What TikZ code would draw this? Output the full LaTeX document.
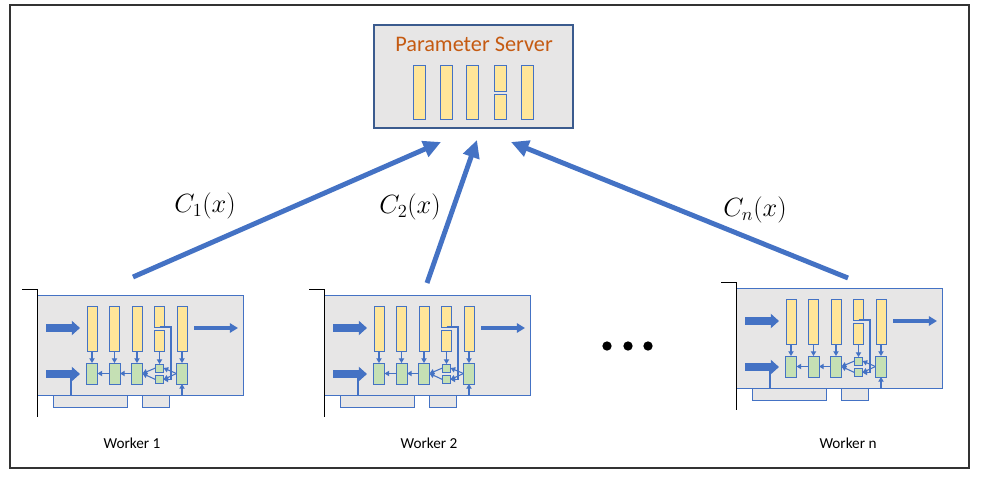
\RequirePackage{fix-cm}
\documentclass[tikz,border=0pt]{standalone}
\usepackage{fontspec}
\newfontfamily\calibri{Carlito}
\usetikzlibrary{arrows.meta}
\definecolor{cardgray}{HTML}{E7E6E6}
\definecolor{linkblue}{HTML}{4472C4}
\definecolor{serverblue}{HTML}{3B5B8E}
\definecolor{barfill}{HTML}{FFE699}
\definecolor{cellfill}{HTML}{C5E0B4}
\definecolor{titleorange}{HTML}{C55A11}
\begin{document}
\begin{tikzpicture}[
		x=0.03cm, y=-0.03cm,
		every node/.style={inner sep=0pt, outer sep=0pt},
		box/.style={draw=linkblue, line width=0.6pt, fill=cardgray},
		bar/.style={draw=linkblue, line width=0.6pt, fill=barfill, minimum width=0.3cm, minimum height=1.35cm},
		halfbar/.style={bar, minimum height=0.63cm},
		cell/.style={draw=linkblue, line width=0.6pt, fill=cellfill, minimum width=0.33cm, minimum height=0.63cm},
		tinycell/.style={cell, minimum width=0.24cm, minimum height=0.24cm},
		wire/.style={linkblue, line width=0.9pt, -{Triangle[length=4pt, width=4.5pt]}},
		inarrow/.style={linkblue, line width=6.5pt, -{Triangle[length=7pt, width=12pt]}},
		outarrow/.style={linkblue, line width=3.4pt, -{Triangle[length=7pt, width=8pt]}},
		upload/.style={linkblue, line width=4.2pt, -{Triangle[length=15pt, width=14pt]}},
		clabel/.style={font=\fontsize{22.5}{26}\selectfont},
		wlabel/.style={font=\calibri\fontsize{13}{15}\selectfont}
	]
	\useasboundingbox (0,0) rectangle (982,481);
	\draw[black!80, line width=1.2pt] (10,5) rectangle (969,468);

	% parameter server
	\node[box, draw=serverblue, line width=1pt, minimum width=5.97cm, minimum height=3.09cm] (ps) at (473.5,76.5) {};
	\node[font=\calibri\fontsize{19}{22}\selectfont, text=titleorange] (ps-title) at (474,44) {Parameter Server};
	\foreach \i/\x in {1/419,2/446,3/472.5,5/527.5}
		\node[bar, minimum width=0.36cm, minimum height=1.62cm] (ps-b\i) at (\x,92) {};
	\node[bar, minimum width=0.36cm, minimum height=0.78cm] (ps-b4a) at (500,78) {};
	\node[bar, minimum width=0.36cm, minimum height=0.75cm] (ps-b4b) at (500,106.5) {};

	% workers
	\foreach \w/\cx/\cy/\lx/\ux/\uy in {1/37/295/132/96/-18, 2/324/295/429/103/-12, n/736/288/848/112/-10} {
		\begin{scope}[shift={(\cx,\cy)}]
			\node[box, minimum width=2.22cm, minimum height=0.36cm] (w\w-tab1) at (53,106) {};
			\node[box, minimum width=0.81cm, minimum height=0.36cm] (w\w-tab2) at (118.5,106) {};
			\node[box, minimum width=6.18cm, minimum height=3cm] (w\w-card) at (103,50) {};
			\draw[black, line width=0.8pt] (-15,-6) -- (0,-6) -- (0,122);
			\coordinate (w\w-up) at (\ux,\uy);

			\foreach \i/\x in {1/55,2/77.5,3/100,5/145} {
				\node[bar] (w\w-b\i) at (\x,33.5) {};
				\node[cell] (w\w-g\i) at (\x,78.5) {};
				\draw[wire] (w\w-b\i.south) -- (w\w-g\i.north);
			}
			\node[halfbar] (w\w-b4a) at (122.5,21.5) {};
			\node[halfbar] (w\w-b4b) at (122.5,45.5) {};
			\node[tinycell] (w\w-s1) at (122.5,73) {};
			\node[tinycell] (w\w-s2) at (122.5,84.5) {};

			\draw[wire] (w\w-b4b.south) -- (w\w-s1.north);
			\draw[wire] (w\w-g2.west) -- (w\w-g1.east);
			\draw[wire] (w\w-g3.west) -- (w\w-g2.east);
			\draw[wire] (w\w-s1.west) -- (w\w-g3.east);
			\draw[wire] (w\w-s2.west) -- (w\w-g3.east);
			\draw[wire] (w\w-g5.west) -- (w\w-s1.east);
			\draw[wire] (w\w-g5.west) -- (w\w-s2.east);
			\draw[wire] (w\w-b4a.south) -- ++(11.5,0) |- (w\w-s2.east);
			\draw[wire] (w\w-card.south -| w\w-g5) -- (w\w-g5.south);
			\draw[linkblue, line width=0.9pt] (34,79) -- (w\w-card.south -| 34,0);

			\draw[inarrow] (9,33) -- (43,33);
			\draw[inarrow] (9,79) -- (43,79);
			\draw[outarrow] (157,33) -- (201,33);
		\end{scope}
		\node[wlabel] (w\w-name) at (\lx,443) {Worker \w};
	}

	\foreach \x in {607,628,648}
		\fill (\x,346) circle[radius=0.14cm];

	% uploads
	\coordinate (ps-in1) at (441,142);
	\coordinate (ps-in2) at (477,140);
	\coordinate (ps-inn) at (511,142);
	\draw[upload] (w1-up) -- (ps-in1);
	\draw[upload] (w2-up) -- (ps-in2);
	\draw[upload] (wn-up) -- (ps-inn);
	\node[clabel] (c1) at (205,206) {$C_1(x)$};
	\node[clabel] (c2) at (410,207) {$C_2(x)$};
	\node[clabel] (cn) at (755,210) {$C_n(x)$};
\end{tikzpicture}
\end{document}
